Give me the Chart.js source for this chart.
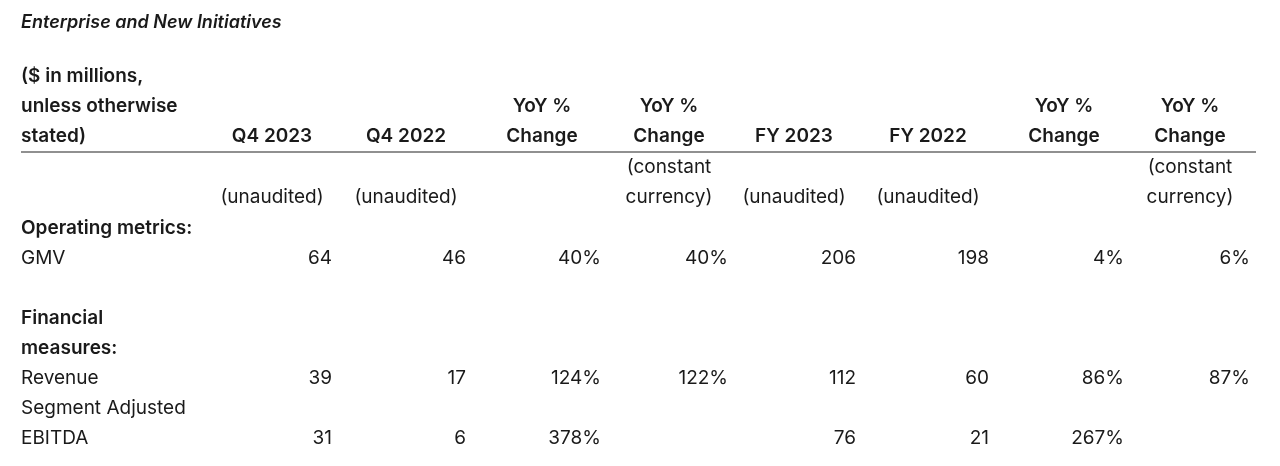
<!DOCTYPE html>
<html><head><meta charset="utf-8">
<script src="https://cdn.jsdelivr.net/npm/chart.js@4"></script>
<style>html,body{margin:0;padding:0;background:#fff}canvas{display:block}</style>
</head><body>
<canvas id="c" width="1280" height="466"></canvas>
<script>
const title = "Enterprise and New Initiatives";
const headerLeft = ["($ in millions,", "unless otherwise", "stated)"];
const headers = [["Q4 2023"],["Q4 2022"],["YoY %","Change"],["YoY %","Change"],["FY 2023"],["FY 2022"],["YoY %","Change"],["YoY %","Change"]];
const subHeaders = [["(unaudited)"],["(unaudited)"],[],["(constant","currency)"],["(unaudited)"],["(unaudited)"],[],["(constant","currency)"]];
const sections = ["Operating metrics:", ["Financial","measures:"]];
const rowLabels = ["GMV", "Revenue", ["Segment Adjusted","EBITDA"]];
const gmv = ["64","46","40%","40%","206","198","4%","6%"];
const revenue = ["39","17","124%","122%","112","60","86%","87%"];
const ebitda = ["31","6","378%","","76","21","267%",""];
const colCenters = [272,406,542,669,794,928,1064,1190];
const colRights = [332,466,601,728,856,989,1124,1250];
const lineY = [23,76,106,136,167,197,228,258,318,348,378,408,438];

const F = '"Inter","Noto Sans",sans-serif';
const tablePlugin = {
  id:'table',
  afterDraw(chart){
    const c = chart.ctx, xs = chart.scales.x, ys = chart.scales.y;
    const X = v=>xs.getPixelForValue(v), Y = i=>ys.getPixelForValue(lineY[i]);
    c.save(); c.textBaseline='middle'; c.fillStyle='#1a1a1a';
    const t=(s,x,y,al,w,it)=>{c.font=(it?'italic ':'')+(w||400)+' 19px '+F;c.textAlign=al;c.fillText(s,x,y);};
    c.font='italic 600 18px '+F; c.textAlign='left'; c.fillText(title,X(21),Y(0));
    headerLeft.forEach((s,i)=>t(s,X(21),Y(1+i),'left',600));
    headers.forEach((h,j)=>h.forEach((s,k)=>t(s,X(colCenters[j]),Y(3-h.length+1+k),'center',600)));
    subHeaders.forEach((h,j)=>h.forEach((s,k)=>t(s,X(colCenters[j]),Y(5-h.length+1+k),'center',400)));
    c.strokeStyle='#222'; c.lineWidth=1.2; c.beginPath(); c.moveTo(X(21),Y(3)+16); c.lineTo(X(1256),Y(3)+16); c.stroke();
    t(sections[0],X(21),Y(6),'left',600);
    t(sections[1][0],X(21),Y(8),'left',600); t(sections[1][1],X(21),Y(9),'left',600);
    t(rowLabels[0],X(21),Y(7),'left'); t(rowLabels[1],X(21),Y(10),'left');
    t(rowLabels[2][0],X(21),Y(11),'left'); t(rowLabels[2][1],X(21),Y(12),'left');
    [[gmv,7],[revenue,10],[ebitda,12]].forEach(([arr,r])=>arr.forEach((s,j)=>t(s,X(colRights[j]),Y(r),'right')));
    c.restore();
  }
};
new Chart(document.getElementById('c'),{
  type:'scatter',
  data:{datasets:[{data:[]}]},
  options:{responsive:false,animation:false,devicePixelRatio:1,
    layout:{padding:0},
    plugins:{legend:{display:false},tooltip:{enabled:false}},
    scales:{x:{type:'linear',min:0,max:1280,display:false},
            y:{type:'linear',min:0,max:466,reverse:true,display:false}}},
  plugins:[tablePlugin]
});
</script>
</body></html>
